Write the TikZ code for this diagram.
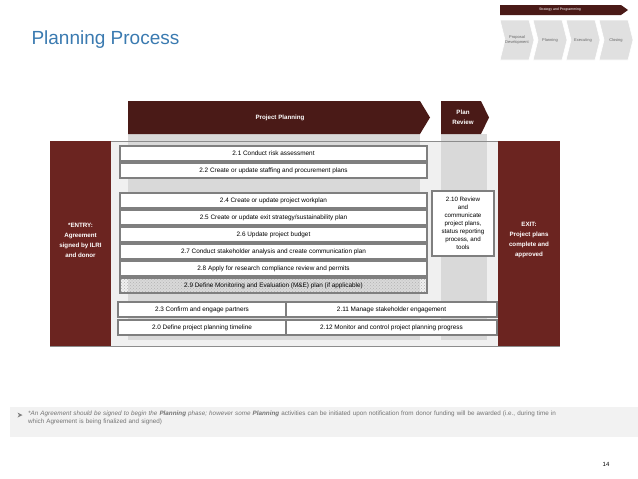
\documentclass[tikz,border=0pt]{standalone}
\usepackage{fontspec}
\setmainfont{Liberation Sans}
\usetikzlibrary{patterns}
\definecolor{mar}{HTML}{6B2420}
\definecolor{dmar}{HTML}{4A1A17}
\definecolor{ttl}{HTML}{3A7AB0}
\definecolor{bd}{HTML}{7F7F7F}
\begin{document}
\begin{tikzpicture}[x=1pt,y=-1pt,
 box/.style={draw=bd,line width=1.2pt,fill=white,font=\fontsize{6.4}{7}\selectfont,inner sep=0pt},
 wtxt/.style={text=white,font=\bfseries\fontsize{6.2}{10}\selectfont,align=center},
 chev/.style={fill=black!12,draw=white,line width=0.6pt}]
\useasboundingbox (0,0) rectangle (638,479);
\node[anchor=west,text=ttl,font=\fontsize{19}{22}\selectfont] (title) at (28,40) {Planning Process};
% top right
\fill[dmar] (500,5)--(621,5)--(628,10)--(621,15)--(500,15)--cycle;
\node[text=white,font=\fontsize{3.5}{4}\selectfont] (sp) at (560,10) {Strategy and Programming};
\foreach \a/\t [count=\i] in {500/{Proposal\\Development},533/Planning,566/Executing,599/Closing}{
 \fill[chev] (\a,20)--(\a+29,20)--(\a+34,40)--(\a+29,60)--(\a,60)--(\a+5,40)--cycle;
 \node[text=black!60,font=\fontsize{4}{5}\selectfont,align=center] (c\i) at (\a+17,40) {\t};}
% backgrounds
\fill[black!6] (111,141) rectangle (498,346);
\fill[black!15] (128,134) rectangle (420,340);
\fill[black!15] (441,134) rectangle (487,340);
\draw[black!45,line width=0.8pt] (50,141)--(560,141);
\draw[black!45,line width=0.8pt] (50,346)--(560,346);
\fill[dmar] (128,101)--(420,101)--(430,117.5)--(420,134)--(128,134)--cycle;
\node[wtxt] (pp) at (280,117.5) {Project Planning};
\fill[dmar] (441,101)--(481,101)--(489,117.5)--(481,134)--(441,134)--cycle;
\node[wtxt] (pr) at (463,117.5) {Plan\\Review};
\fill[mar] (50,141) rectangle (111,346);
\node[wtxt] (entry) at (80.5,240) {*ENTRY:\\Agreement\\signed by ILRI\\and donor};
\fill[mar] (498,141) rectangle (560,346);
\node[wtxt] (exit) at (529,240) {EXIT:\\Project plans\\complete and\\approved};
% boxes
\foreach \n/\y/\t in {a/146/{2.1 Conduct risk assessment},b/163/{2.2 Create or update staffing and procurement plans},c/193/{2.4 Create or update project workplan},d/210/{2.5 Create or update exit strategy/sustainability plan},e/227/{2.6 Update project budget},f/244/{2.7 Conduct stakeholder analysis and create communication plan},g/261/{2.8 Apply for research compliance review and permits}}
 \node[box,minimum width=307pt,minimum height=15pt] (\n) at (273.5,\y+7.5) {\t};
\node[box,minimum width=307pt,minimum height=15pt,pattern=crosshatch dots,pattern color=black!30] (h) at (273.5,285.5) {};
\node[font=\fontsize{6.4}{7}\selectfont] (ht) at (h) {2.9 Define Monitoring and Evaluation (M\&E) plan (if applicable)};
\node[box,minimum width=62pt,minimum height=65pt,align=center,font=\fontsize{6.2}{8}\selectfont] (rv) at (463,223.5) {2.10 Review\\and\\communicate\\project plans,\\status reporting\\process, and\\tools};
\node[box,minimum width=168pt,minimum height=15pt] (p3) at (202,309.5) {2.3 Confirm and engage partners};
\node[box,minimum width=211pt,minimum height=15pt] (p11) at (391.5,309.5) {2.11 Manage stakeholder engagement};
\node[box,minimum width=168pt,minimum height=15pt] (p0) at (202,327.5) {2.0 Define project planning timeline};
\node[box,minimum width=211pt,minimum height=15pt] (p12) at (391.5,327.5) {2.12 Monitor and control project planning progress};
% footnote
\fill[black!5] (10,407) rectangle (638,437);
\fill[black!50] (17.5,412.5)--(22.5,415)--(17.5,417.5)--(19,415)--cycle;
\node[anchor=north west,text=black!55,font=\itshape\fontsize{6.3}{8}\selectfont,text width=600pt,inner sep=0pt,align=left] (fn) at (28,411)
{*An Agreement should be signed to begin the \textbf{Planning} phase; however some \textbf{Planning} \upshape activities can be initiated upon notification from donor funding will be awarded (i.e., during time in\\which Agreement is being finalized and signed)};
\node[font=\fontsize{6}{7}\selectfont] (pg) at (606,464) {14};
\end{tikzpicture}
\end{document}
